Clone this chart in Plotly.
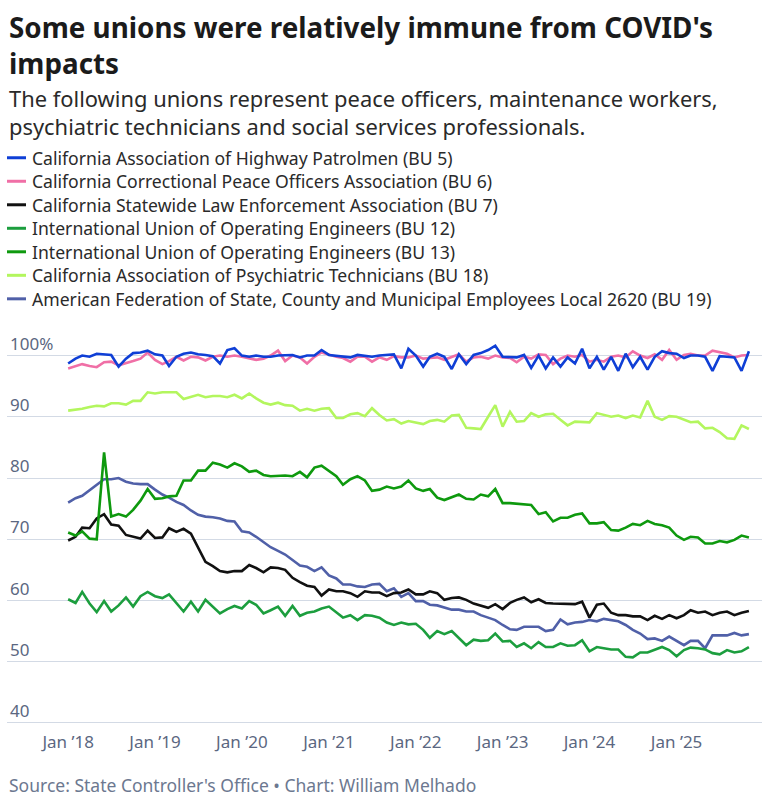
import plotly.graph_objects as go
import pandas as pd

months = pd.date_range("2018-01-01", "2025-11-01", freq="MS")

bu5 = [98.7, 99.5, 100, 99.8, 100.3, 100.2, 100.1, 98.2, 99.5, 100.4, 100.5, 100.8, 100.2, 100, 98.3, 99.8, 100.3, 100.5, 100.2, 100.1, 99.9, 98.7, 100.9, 101.2,
       100, 99.8, 100, 99.8, 99.8, 100, 100.1, 100.1, 99.7, 100, 100, 100.9, 100.1, 100, 99.8, 99.7, 100.1, 100, 99.8, 100, 100.1, 100.2, 97.9, 101.1,
       100, 98.2, 99.8, 100.3, 99.8, 97.8, 100.2, 98.6, 100.1, 100.4, 100.9, 101.6, 99.8, 99.7, 99.7, 100.1, 98.0, 100, 97.9, 99.7, 98.2, 99.7, 98.7, 101.1,
       97.9, 99.8, 97.7, 99.8, 97.5, 100.3, 98.1, 99.8, 97.7, 99.8, 100.7, 100.4, 100.3, 99.6, 100, 100, 99.8, 97.5, 99.9, 99.8, 99.7, 97.5, 100.7]

bu6 = [97.9, 98.3, 98.6, 98.3, 98.1, 98.9, 99.0, 98.4, 98.7, 99.1, 99.5, 100.5, 99.3, 98.6, 99.1, 99.8, 99.2, 99.8, 99.7, 99.2, 99.8, 100, 99.8, 100,
       99.8, 99.6, 99.3, 99.5, 100, 100.8, 99.1, 100, 99.7, 98.7, 99.8, 100.5, 100.1, 99.8, 99.6, 99.0, 99.8, 99.8, 99.0, 99.7, 99.3, 99.9, 99.7, 99.7,
       100, 99.5, 99.6, 99.7, 99.3, 99.8, 100.2, 99.0, 99.7, 99.8, 99.5, 100, 99.7, 99.6, 98.9, 99.8, 99.5, 100.2, 100.1, 98.6, 99.5, 100, 99.8, 100.1,
       99.0, 99.3, 99.0, 99.8, 100, 99.7, 100.7, 100, 99.6, 100.2, 99.3, 100.9, 99.3, 100.1, 100.3, 100, 100, 100.8, 100.5, 100.3, 99.7, 100, 100.1]

bu7 = [69.8, 70.4, 71.9, 71.8, 73.4, 74.1, 72.4, 72.2, 70.7, 70.4, 70.1, 71.4, 70.2, 70.3, 71.8, 71.2, 71.7, 70.9, 68.5, 66.3, 65.6, 64.8, 64.6, 64.8,
       64.8, 65.8, 65.3, 64.6, 65.4, 65.3, 65.0, 63.7, 63.0, 62.4, 62.2, 60.8, 61.8, 61.5, 61.5, 61.2, 60.6, 61.5, 61.3, 61.3, 60.7, 61.2, 61.3, 61.8,
       61.0, 61.0, 61.5, 61.2, 60.1, 60.4, 60.5, 60.1, 59.5, 59.1, 58.8, 59.4, 58.6, 59.6, 60.1, 60.5, 59.7, 60.2, 59.6, 59.5, 59.5, 59.5, 59.4, 59.8,
       57.2, 59.3, 59.5, 58.0, 57.6, 57.6, 57.4, 57.4, 56.8, 57.5, 57.0, 57.6, 57.1, 57.6, 58.4, 58.0, 58.2, 57.6, 58.0, 58.2, 57.6, 58.0, 58.3]

bu12 = [60.2, 59.6, 61.4, 59.5, 58.1, 59.9, 58.2, 59.2, 60.5, 59.0, 60.7, 61.4, 60.7, 60.4, 61.0, 59.6, 58.2, 59.8, 58.2, 60.1, 59.0, 57.9, 58.6, 59.1,
        58.7, 59.9, 59.3, 57.9, 58.4, 59.0, 57.5, 59.1, 57.5, 58.0, 58.2, 58.7, 59.0, 58.0, 57.2, 57.6, 56.8, 57.6, 57.5, 57.2, 56.4, 56.0, 56.4, 56.1,
        56.2, 55.2, 53.9, 55.0, 54.5, 55.0, 53.9, 52.7, 53.6, 53.4, 53.5, 54.6, 53.3, 53.4, 52.4, 53.0, 52.2, 53.2, 52.4, 52.4, 53.0, 52.6, 52.7, 53.5,
        51.7, 52.4, 52.2, 52.0, 52.0, 50.8, 50.7, 51.5, 51.5, 51.9, 52.4, 51.9, 50.9, 51.9, 52.3, 52.2, 52.0, 51.4, 51.2, 51.9, 51.5, 51.7, 52.4]

bu13 = [71.1, 70.6, 71.3, 70.1, 70.0, 84.2, 73.7, 74.1, 73.7, 74.8, 76.3, 78.2, 76.6, 76.7, 77.0, 77.1, 79.6, 79.6, 81.2, 81.2, 82.5, 82.2, 81.7, 82.4,
        81.9, 81.0, 81.2, 80.5, 80.3, 80.4, 80.4, 80.3, 81.0, 80.1, 81.7, 82.0, 81.2, 80.3, 78.9, 79.8, 80.3, 79.6, 77.9, 78.1, 78.6, 78.3, 78.6, 79.6,
        78.3, 77.9, 78.2, 76.8, 76.4, 76.8, 77.3, 76.6, 76.5, 77.3, 77.0, 78.2, 75.9, 75.9, 75.8, 75.6, 75.6, 74.1, 74.4, 72.9, 73.5, 73.5, 74.0, 74.2,
        72.6, 72.6, 72.8, 71.5, 71.4, 71.9, 72.5, 72.3, 73.0, 72.5, 72.3, 71.9, 70.6, 69.9, 70.4, 70.3, 69.3, 69.3, 69.7, 69.5, 69.9, 70.6, 70.3]

bu18 = [91.0, 91.1, 91.3, 91.6, 91.8, 91.7, 92.2, 92.2, 92.0, 92.6, 92.6, 94.0, 93.8, 94.0, 94.0, 94.0, 92.9, 93.2, 93.6, 93.2, 93.4, 93.4, 93.2, 93.6,
        93.0, 93.8, 93.0, 92.3, 92.0, 92.3, 91.9, 91.8, 91.0, 91.3, 91.0, 91.3, 91.4, 89.8, 89.8, 90.4, 90.6, 90.1, 91.4, 90.3, 89.4, 89.6, 88.9, 89.3,
        89.1, 88.8, 89.3, 89.5, 89.2, 90.2, 90.3, 88.2, 88.1, 88.0, 90.0, 91.9, 88.4, 90.8, 89.2, 89.3, 90.6, 90.0, 90.4, 90.5, 89.5, 88.6, 89.2, 89.2,
        89.1, 90.6, 90.3, 90.0, 90.2, 89.8, 90.2, 89.9, 92.6, 90.0, 89.5, 90.1, 90.0, 89.5, 89.1, 89.2, 88.1, 88.2, 87.5, 86.5, 86.4, 88.6, 88.0]

bu19 = [76.0, 76.7, 77.1, 78.0, 79.0, 79.8, 79.8, 80.0, 79.4, 79.1, 79.0, 79.0, 78.1, 77.3, 76.8, 76.1, 75.6, 74.7, 74.0, 73.7, 73.6, 73.4, 73.0, 72.9,
        71.3, 71.1, 70.4, 69.5, 68.7, 68.1, 67.5, 66.6, 65.7, 65.5, 64.8, 65.4, 64.1, 63.6, 62.6, 62.6, 62.3, 62.2, 62.6, 62.7, 61.5, 62.0, 60.6, 61.2,
        59.9, 59.9, 59.3, 59.2, 58.8, 58.5, 58.5, 58.2, 58.2, 57.6, 57.2, 56.8, 56.0, 55.3, 55.2, 55.7, 55.7, 55.7, 55.0, 55.2, 56.9, 56.1, 56.4, 56.5,
        56.8, 56.6, 57.0, 56.8, 56.6, 56.0, 55.2, 54.6, 53.7, 53.8, 53.4, 54.1, 53.4, 52.7, 53.4, 53.4, 52.2, 54.3, 54.3, 54.3, 54.7, 54.3, 54.5]

series_names = [
    "California Association of Highway Patrolmen (BU 5)",
    "California Correctional Peace Officers Association (BU 6)",
    "California Statewide Law Enforcement Association (BU 7)",
    "International Union of Operating Engineers (BU 12)",
    "International Union of Operating Engineers (BU 13)",
    "California Association of Psychiatric Technicians (BU 18)",
    "American Federation of State, County and Municipal Employees Local 2620 (BU 19)",
]
series_values = [bu5, bu6, bu7, bu12, bu13, bu18, bu19]
series_colors = ["#0f3fd6", "#f06fa6", "#111111", "#1c9e3e", "#0e990e", "#b3f65e", "#5060a8"]

# draw order: back to front
draw_order = [5, 1, 0, 6, 2, 3, 4]

x_tickvals = pd.date_range("2018-01-01", "2025-01-01", freq="YS")
x_ticktext = ["Jan ’18", "Jan ’19", "Jan ’20", "Jan ’21", "Jan ’22", "Jan ’23", "Jan ’24", "Jan ’25"]
y_tickvals = [40, 50, 60, 70, 80, 90, 100]
y_ticktext = ["40", "50", "60", "70", "80", "90", "100%"]

W, H = 768, 802
PX_PER_UNIT = 6.12
Y_LO, Y_HI = 39.5, 104.5
L, R = 7, 762                                   # plot area pixel x extent
B = 722.9 + (40 - Y_LO) * PX_PER_UNIT           # plot area bottom pixel
T = B - (Y_HI - Y_LO) * PX_PER_UNIT             # plot area top pixel

def px_x(p):
    return (p - L) / (R - L)

def px_y(p):
    return (B - p) / (B - T)

FONT = "Noto Sans"
TICK_COLOR = "#5b6781"

fig = go.Figure()
for i in draw_order:
    fig.add_trace(go.Scatter(
        x=months, y=series_values[i], name=series_names[i], mode="lines",
        line=dict(color=series_colors[i], width=2.6), showlegend=False,
    ))

annotations = []
shapes = []

# Title (two lines in one text block)
annotations.append(dict(text="<b>Some unions were relatively immune from COVID's<br>impacts</b>",
                        x=px_x(7), y=px_y(45), xanchor="left", yanchor="middle", align="left",
                        font=dict(size=27.8, color="#1b1b1b", family=FONT)))
# Subtitle (two lines in one text block)
annotations.append(dict(text="The following unions represent peace officers, maintenance workers,<br>"
                             "psychiatric technicians and social services professionals.",
                        x=px_x(7), y=px_y(112.5), xanchor="left", yanchor="middle", align="left",
                        font=dict(size=21.9, color="#2a2a2a", family=FONT)))

# Legend (manual)
for k in range(7):
    yc = 158 + k * 23.5
    shapes.append(dict(type="line", xref="paper", yref="paper", x0=px_x(7), x1=px_x(26),
                       y0=px_y(yc), y1=px_y(yc), line=dict(color=series_colors[k], width=3)))
    annotations.append(dict(text=series_names[k], x=px_x(30), y=px_y(yc), xanchor="left", yanchor="middle",
                            font=dict(size=17.6, color="#2a2a2a", family=FONT)))

# Footer
annotations.append(dict(text="Source: State Controller's Office • Chart: William Melhado", x=px_x(7), y=px_y(785),
                        xanchor="left", yanchor="middle", font=dict(size=17.5, color="#6c7890", family=FONT)))

for a in annotations:
    a.update(xref="paper", yref="paper", showarrow=False)

fig.update_layout(
    width=W, height=H,
    margin=dict(l=L, r=W - R, t=T, b=H - B, pad=0),
    paper_bgcolor="white", plot_bgcolor="white",
    font=dict(family=FONT),
    annotations=annotations, shapes=shapes,
    showlegend=False,
    hovermode="x unified",
)
fig.update_xaxes(
    range=["2017-04-19", "2025-12-26"],
    tickvals=list(x_tickvals), ticktext=x_ticktext,
    showgrid=False, zeroline=False, showline=False, ticks="",
    tickfont=dict(size=17, color=TICK_COLOR, family=FONT),
    ticklabelstandoff=4,
)
fig.update_yaxes(
    range=[Y_LO, Y_HI],
    tickvals=y_tickvals, ticktext=y_ticktext,
    ticklabelposition="inside top",
    showgrid=True, gridcolor="#d3dae5", gridwidth=1.3,
    zeroline=False, showline=False, ticks="",
    tickfont=dict(size=17, color=TICK_COLOR, family=FONT),
)

fig.write_html("out.html")
